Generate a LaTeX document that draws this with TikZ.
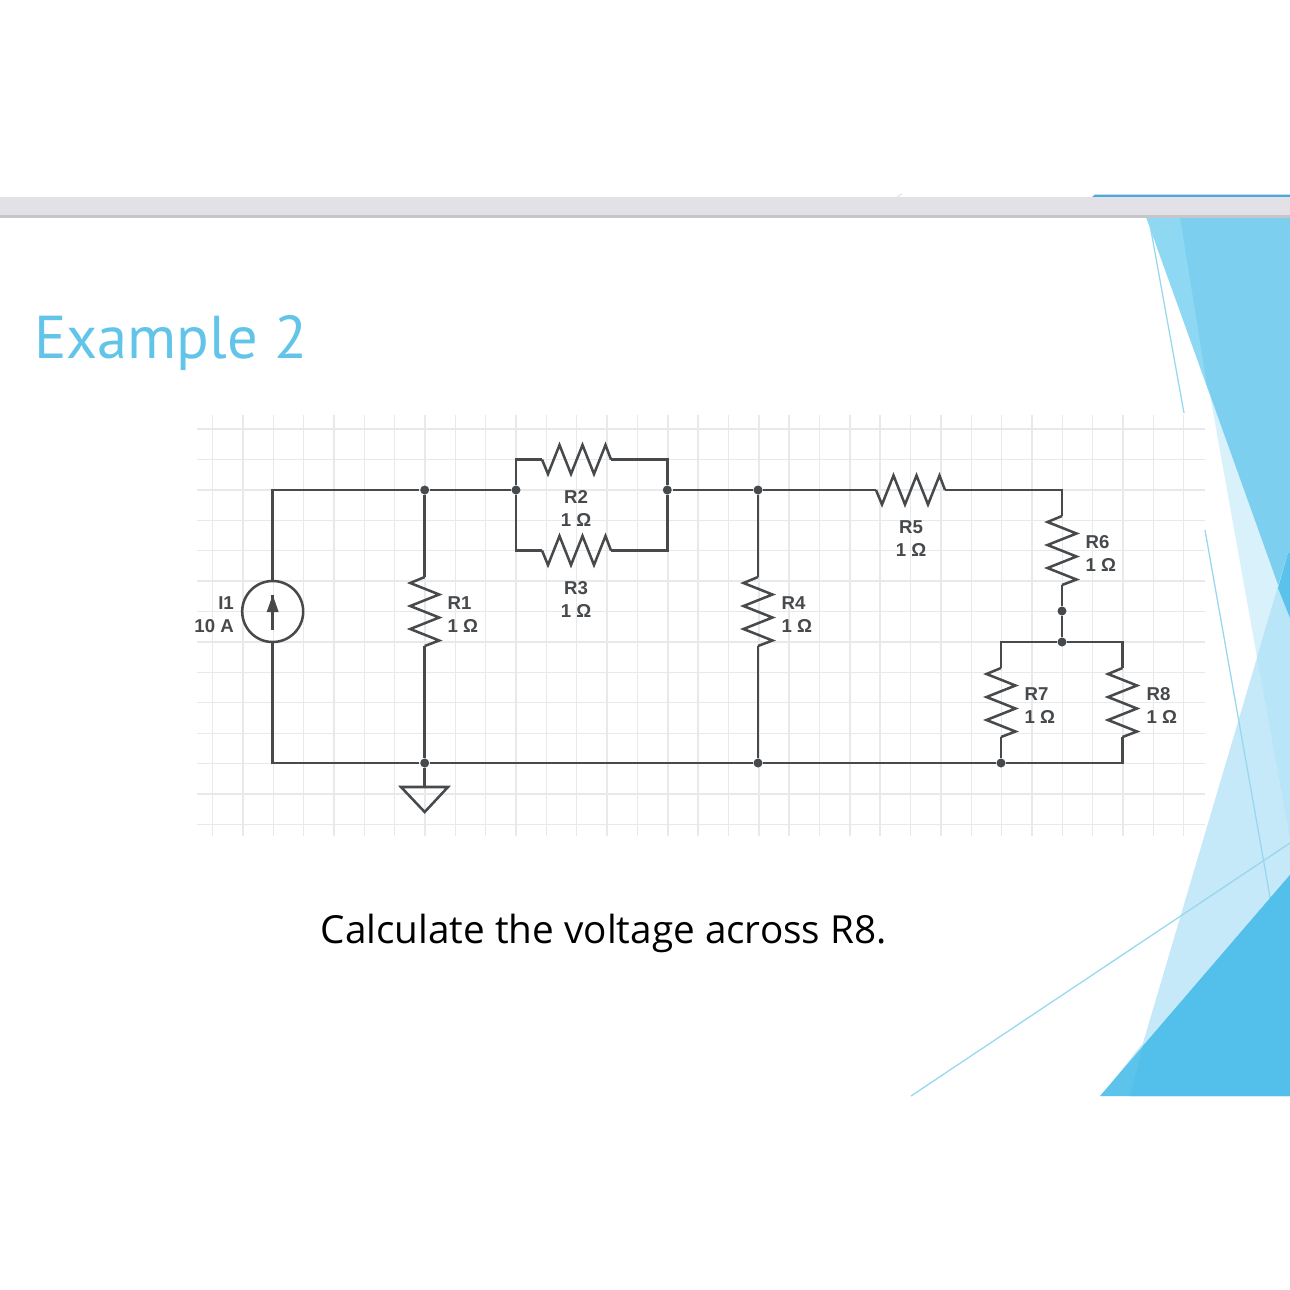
\documentclass[tikz,border=0pt]{standalone}
\usepackage{fontspec}
\setmainfont{Open Sans}
\newfontfamily\labelfont{Liberation Sans}
\newfontfamily\titlefont{PT Sans}
\usepackage{xcolor}
\definecolor{wirecol}{HTML}{474A4D}
\definecolor{gridcol}{HTML}{E9E9EA}
\definecolor{titlecol}{HTML}{62C4E9}
\definecolor{sidea}{HTML}{8FD8F3}
\definecolor{sideb}{HTML}{7CCFEE}
\definecolor{sidec}{HTML}{D9F1FB}
\definecolor{sided}{HTML}{C5E9F9}
\definecolor{sidee}{HTML}{B8E5F7}
\definecolor{sidef}{HTML}{5AC3EC}
\definecolor{sideg}{HTML}{5CC4EA}
\definecolor{sideh}{HTML}{52C0EB}
\definecolor{sideline}{HTML}{96D8EE}
\definecolor{bandtop}{HTML}{4EA8D8}
\definecolor{bandcol}{HTML}{E2E1E7}
\definecolor{bandlow}{HTML}{C6C5C8}
\tikzset{
  wire/.style={draw=wirecol,line width=.72pt,line join=miter},
  gridline/.style={draw=gridcol,line width=.4pt},
  sidestroke/.style={draw=sideline,line width=.36pt},
  junction/.style={circle,fill=wirecol,inner sep=0pt,minimum size=.09cm},
  valuelabel/.style={font=\labelfont\bfseries\fontsize{5.3}{6.54}\selectfont,text=wirecol,inner sep=0pt},
  slidetext/.style={anchor=base west,inner sep=0pt},
  resis/.pic={
    \coordinate (-in) at (0,0);
    \coordinate (-out) at (69,0);
    \draw[wire] (0,0) -- (6,14.5) -- (17.5,-14.5) -- (29,14.5) -- (40.5,-14.5) -- (52,14.5) -- (63.5,-14.5) -- (69,0);
  }
}
\begin{document}
\begin{tikzpicture}[x=.01cm,y=-.01cm]
      \useasboundingbox (0,0) rectangle (1290,1290);
      \fill[white] (0,0) rectangle (1290,1290);

      % slide decoration
      \fill[sidec] (1210,395) -- (1290,618) -- (1257,657) -- cycle;
      \fill[sidea] (1146,217) -- (1290,217) -- (1290,618) -- cycle;
      \fill[sideb] (1180,217) -- (1290,217) -- (1290,618) -- (1207,385) -- cycle;
      \fill[sided] (1288,553) -- (1143,1043) -- (1101,1096) -- (1290,1096) -- (1290,553) -- cycle;
      \fill[sidee] (1288,553) -- (1257,657) -- (1290,838) -- (1290,618) -- (1278,588) -- cycle;
      \fill[sidef] (1278,588) -- (1288,553) -- (1290,553) -- (1290,618) -- cycle;
      \draw[sidestroke] (1150,225) -- (1184,413);
      \draw[sidestroke] (1205,530) -- (1290,1010);
      \draw[sidestroke] (911,1096) -- (1290,843);
      \fill[sideg] (1100,1096) -- (1290,875) -- (1290,1096) -- cycle;
      \fill[sideh] (1143,1046) -- (1290,875) -- (1290,1096) -- (1130,1096) -- cycle;

      % top band
      \fill[bandtop] (1092,197) -- (1095,194.5) -- (1290,194.5) -- (1290,197) -- cycle;
      \draw[gridcol,line width=.4pt] (897,197) -- (902,194);
      \fill[bandcol] (0,197) rectangle (1290,215);
      \fill[bandlow] (0,215) rectangle (1290,217.5);

      % grid
      \foreach \gx in {0,...,32}
        \draw[gridline] ({212.7+\gx*30.34},415) -- ({212.7+\gx*30.34},836);
      \foreach \gy in {0,...,13}
        \draw[gridline] (197,{429+\gy*30.42}) -- (1205,{429+\gy*30.42});

      % junctions
      \begin{scope}[every node/.style={junction}]
        \node (j1) at (424.7,490) {};
        \node (j2) at (516,490) {};
        \node (j3) at (667.3,490) {};
        \node (j4) at (758,490) {};
        \node (j5) at (424.7,763) {};
        \node (j6) at (758,763) {};
        \node (j7) at (1001,763) {};
        \node (j8) at (1062,611) {};
        \node (j9) at (1062,642) {};
      \end{scope}

      % source and resistors
      \node[circle,draw=wirecol,line width=.72pt,inner sep=0pt,minimum size=.61cm] (i1) at (272.7,611.5) {};
      \coordinate (arrowtail) at (272.7,630);
      \coordinate (arrowhead) at (272.7,595);
      \pic[rotate=-90] (r1) at (424.7,577) {resis};
      \pic (r2) at (542,459.5) {resis};
      \pic (r3) at (542,550.5) {resis};
      \pic[rotate=-90] (r4) at (758,577) {resis};
      \pic (r5) at (876,490) {resis};
      \pic[rotate=-90] (r6) at (1062,516) {resis};
      \pic[rotate=-90] (r7) at (1001,668) {resis};
      \pic[rotate=-90] (r8) at (1122.5,668) {resis};

      % connections
      \path[wire] (i1.north) |- (j1);
      \path[wire] (i1.south) |- (j5);
      \path[wire] (j1) -- (j2);
      \path[wire] (j2) |- (r2-in);
      \path[wire] (j2) |- (r3-in);
      \path[wire] (r2-out) -| (j3);
      \path[wire] (r3-out) -| (j3);
      \path[wire] (j3) -- (j4);
      \path[wire] (j4) -- (r5-in);
      \path[wire] (r5-out) -| (r6-in);
      \path[wire] (r6-out) -- (j8);
      \path[wire] (j8) -- (j9);
      \path[wire] (j1) -- (r1-in);
      \path[wire] (r1-out) -- (j5);
      \path[wire] (j4) -- (r4-in);
      \path[wire] (r4-out) -- (j6);
      \path[wire] (j5) -- (j6);
      \path[wire] (j6) -- (j7);
      \path[wire] (j9) -| (r7-in);
      \path[wire] (j9) -| (r8-in);
      \path[wire] (r7-out) -- (j7);
      \path[wire] (r8-out) |- (j7);

      % source arrow
      \path[wire] (arrowtail) -- (arrowhead);
      \fill[wirecol] (arrowhead) -- ++(6,17) -- ++(-12,0) -- cycle;

      % ground
      \coordinate (gnd) at (424.7,787);
      \path[wire] (j5) -- (gnd);
      \draw[wire] (401,787) -- (448,787) -- (424.7,812) -- cycle;

      % labels
      \begin{scope}[every node/.style={valuelabel,align=left,anchor=west}]
        \node (lr1) at (447,614.5) {R1\\1 Ω};
        \node (lr4) at (781,614.5) {R4\\1 Ω};
        \node (lr6) at (1085,553.5) {R6\\1 Ω};
        \node (lr7) at (1024,705.5) {R7\\1 Ω};
        \node (lr8) at (1146,705.5) {R8\\1 Ω};
      \end{scope}
      \begin{scope}[every node/.style={valuelabel,align=center}]
        \node (lr2) at (576,508) {R2\\1 Ω};
        \node (lr3) at (576,599) {R3\\1 Ω};
        \node (lr5) at (911,538.5) {R5\\1 Ω};
      \end{scope}
      \node[valuelabel,align=right,anchor=east] (li1) at (234.5,614.5) {I1\\10 A};

      % slide text
      \node[slidetext,text=titlecol,font=\titlefont\fontsize{17.2}{20}\selectfont] (title) at (33.5,358) {Example 2};
      \node[slidetext,text=black,font=\fontsize{11}{13}\selectfont] (question) at (320,943) {Calculate the voltage across R8.};

    \end{tikzpicture}
\end{document}
